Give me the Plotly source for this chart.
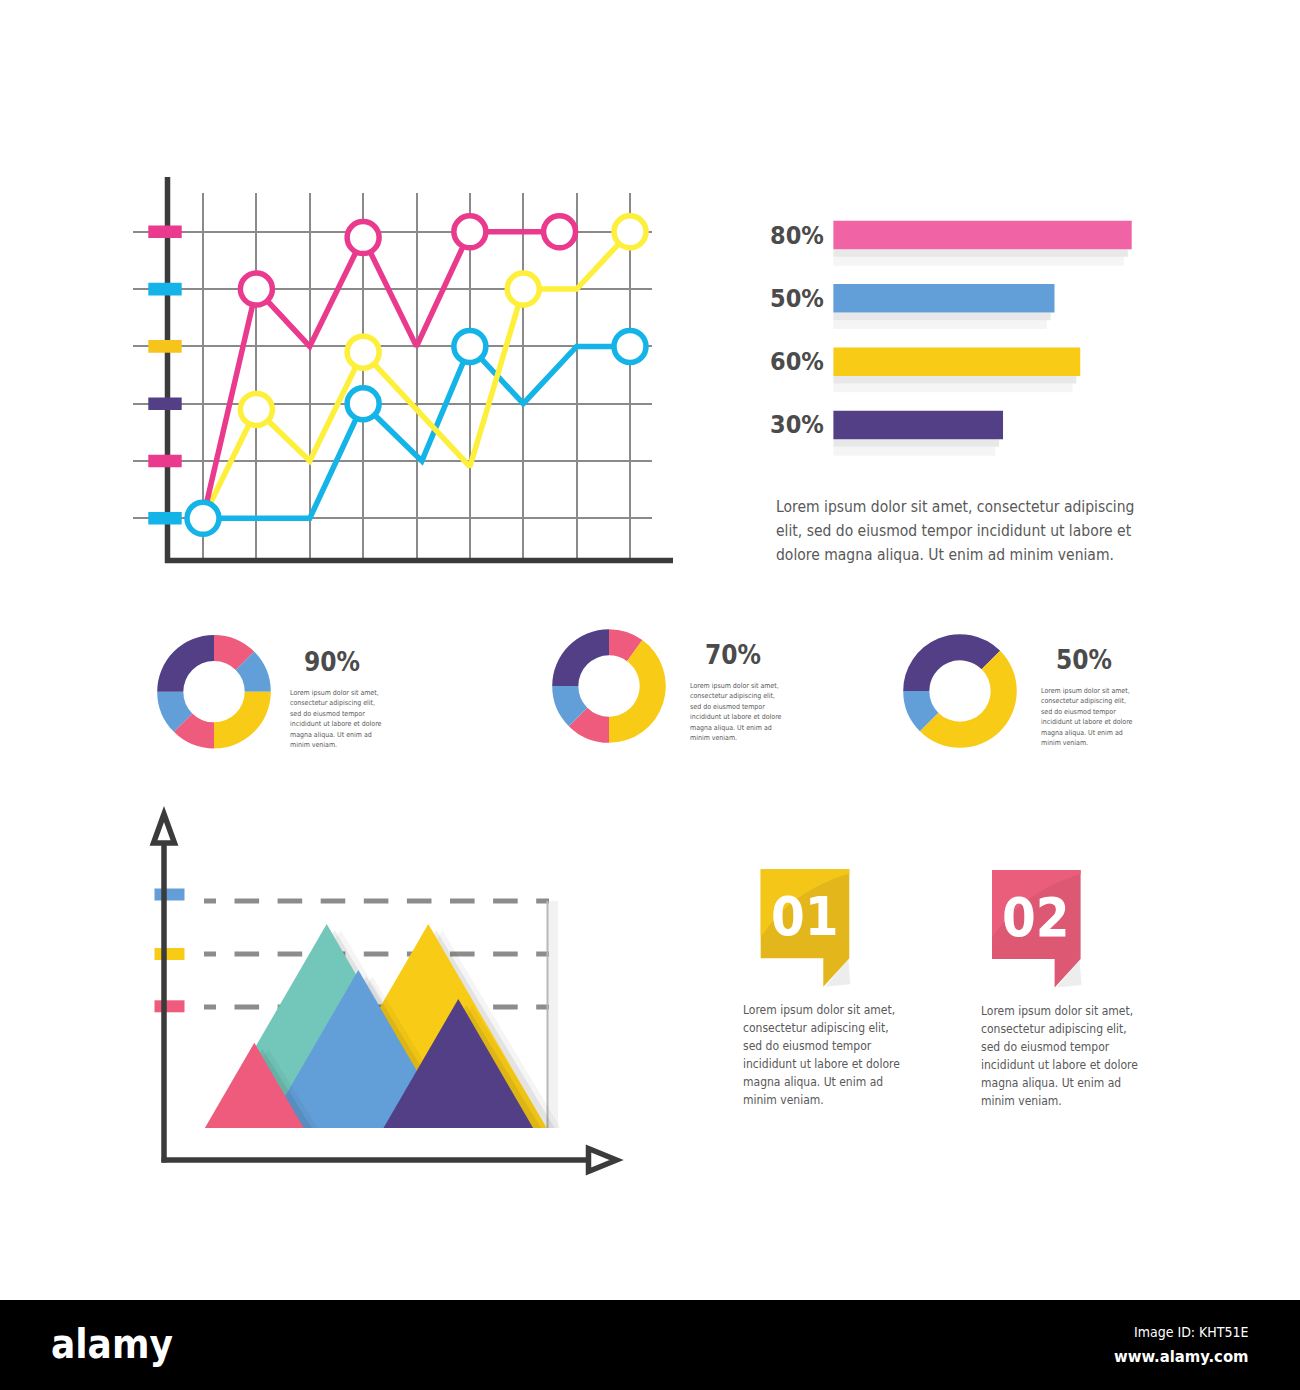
import plotly.graph_objects as go

W, H = 1300, 1390


def px(x):
    return x / W


def py(y):
    return 1 - y / H


NARROW = "DejaVu Sans Condensed, Liberation Sans Narrow, sans-serif"

# ---------------- colours ----------------
L_PINK = "#EA3A8D"
L_YELLOW = "#FDEF3A"
L_CYAN = "#14B3E8"
T_YELLOW = "#F6C41A"
PURPLE = "#533F86"
PINK = "#EF5B7D"
BLUE = "#629FD8"
YELLOW = "#F8CB17"
TEAL = "#72C7BA"
BAR_PINK = "#F063A4"
TXT = "#4B4B4B"
PARA = "#595959"

# ---------------- data: line chart ----------------
pink_x = [0, 1, 2, 3, 4, 5, 6.68]
pink_y = [0, 4, 3, 4.9, 3, 5, 5]
pink_marks = [1, 3, 5, 6]
yellow_x = [0, 1, 2, 3, 5, 6, 7, 8]
yellow_y = [0, 1.9, 1, 2.9, 0.9, 4, 4, 5]
yellow_marks = [1, 3, 5, 7]
cyan_x = [0, 2, 3, 4.1, 5, 6, 7, 8]
cyan_y = [0, 0, 2, 1, 3, 2, 3, 3]
cyan_marks = [0, 2, 4, 7]
grid_x = list(range(9))
grid_y = list(range(6))
level_tick_colors = [L_CYAN, L_PINK, PURPLE, T_YELLOW, L_CYAN, L_PINK]

# ---------------- data: bars ----------------
bar_labels = ["80%", "50%", "60%", "30%"]
bar_values = [80, 50, 60, 30]
bar_colors = [BAR_PINK, BLUE, YELLOW, PURPLE]
BAR_BASE = -35.9

# ---------------- data: donuts ----------------
donut_labels = ["90%", "70%", "50%"]
donut1_values = [12.5, 12.5, 25, 12.5, 12.5, 25]
donut1_colors = [PINK, BLUE, YELLOW, PINK, BLUE, PURPLE]
donut2_values = [25, 10, 40, 12.5, 12.5]
donut2_colors = [PURPLE, PINK, YELLOW, PINK, BLUE]
donut3_values = [37.5, 50, 12.5]
donut3_colors = [PURPLE, YELLOW, BLUE]

# ---------------- data: triangles ----------------
tri_centers = [163.7, 265.3, 195.3, 91.3, 295.3]
tri_peaks = [236, 236, 190, 117.3, 161]
tri_colors = [TEAL, YELLOW, BLUE, PINK, PURPLE]
TRI_BASE = 32
TRI_SLOPE = 0.58
tri_levels = [259, 206, 153]
tri_level_colors = [BLUE, YELLOW, PINK]

lorem_small = ["Lorem ipsum dolor sit amet,", "consectetur adipiscing elit,", "sed do eiusmod tempor",
               "incididunt ut labore et dolore", "magna aliqua. Ut enim ad", "minim veniam."]
lorem_bar = ["Lorem ipsum dolor sit amet, consectetur adipiscing",
             "elit, sed do eiusmod tempor incididunt ut labore et",
             "dolore magna aliqua. Ut enim ad minim veniam."]

fig = go.Figure()
shapes = []
annotations = []


def add_lines(x, y0, dy, lines, size, color=PARA):
    for i, ln in enumerate(lines):
        annotations.append(dict(xref="paper", yref="paper", x=px(x), y=py(y0 + i * dy), text=ln, showarrow=False,
                                xanchor="left", yanchor="middle", align="left",
                                font=dict(family=NARROW, size=size, color=color)))


# ================= line chart =================
LX0, LDX = 203.0, 53.375
LY0, LDY = 518.3, 57.3

for xs, ys, col in [(cyan_x, cyan_y, L_CYAN), (yellow_x, yellow_y, L_YELLOW), (pink_x, pink_y, L_PINK)]:
    fig.add_trace(go.Scatter(x=xs, y=ys, mode="lines", line=dict(color=col, width=5.5),
                             xaxis="x", yaxis="y", showlegend=False, hoverinfo="skip", cliponaxis=False))
for xs, ys, idx, col in [(pink_x, pink_y, pink_marks, L_PINK), (yellow_x, yellow_y, yellow_marks, L_YELLOW),
                         (cyan_x, cyan_y, cyan_marks, L_CYAN)]:
    fig.add_trace(go.Scatter(x=[xs[i] for i in idx], y=[ys[i] for i in idx], mode="markers",
                             marker=dict(size=32, color="white", line=dict(color=col, width=5.5)),
                             xaxis="x", yaxis="y", showlegend=False, hoverinfo="skip", cliponaxis=False))

shapes.append(dict(type="line", xref="paper", yref="paper", x0=px(167.5), x1=px(167.5), y0=py(177), y1=py(563),
                   line=dict(color="#3B3B3B", width=5.5)))
shapes.append(dict(type="line", xref="paper", yref="paper", x0=px(165), x1=px(673), y0=py(560.5), y1=py(560.5),
                   line=dict(color="#3B3B3B", width=5.5)))
for lvl, col in zip(grid_y, level_tick_colors):
    shapes.append(dict(type="rect", xref="paper", yref="y", x0=px(148.3), x1=px(181.7),
                       y0=lvl - 0.11, y1=lvl + 0.11, fillcolor=col, line=dict(width=0)))

# ================= bars =================
fig.add_trace(go.Bar(y=bar_labels, x=[v - BAR_BASE - 1.5 for v in bar_values], base=BAR_BASE, orientation="h",
                     offset=0.225, width=0.12, marker=dict(color="rgba(0,0,0,0.09)", line=dict(width=0)),
                     xaxis="x2", yaxis="y2", showlegend=False, hoverinfo="skip"))
fig.add_trace(go.Bar(y=bar_labels, x=[v - BAR_BASE - 3 for v in bar_values], base=BAR_BASE, orientation="h",
                     offset=0.345, width=0.14, marker=dict(color="rgba(0,0,0,0.04)", line=dict(width=0)),
                     xaxis="x2", yaxis="y2", showlegend=False, hoverinfo="skip"))
fig.add_trace(go.Bar(y=bar_labels, x=[v - BAR_BASE for v in bar_values], base=BAR_BASE, orientation="h",
                     offset=-0.225, width=0.45, marker=dict(color=bar_colors, line=dict(width=0)),
                     xaxis="x2", yaxis="y2", showlegend=False, hoverinfo="skip"))
for lab in bar_labels:
    annotations.append(dict(xref="paper", yref="y2", x=px(826), y=lab, text=f"<b>{lab}</b>", showarrow=False,
                            xanchor="right", yanchor="middle", font=dict(family=NARROW, size=25, color=TXT)))
add_lines(774, 507, 24, lorem_bar, 15.5)

# ================= donuts =================
donuts = [
    (donut1_values, donut1_colors, 0, 214, 691.7, 332, 662, 288, 693),
    (donut2_values, donut2_colors, -90, 609, 686, 733, 655, 688, 686),
    (donut3_values, donut3_colors, -90, 960, 691, 1084, 660, 1039, 691),
]
for (vals, cols, rot, cx, cy, lx, ly, tx, ty), lab in zip(donuts, donut_labels):
    r = 56.8
    fig.add_trace(go.Pie(values=vals, marker=dict(colors=cols, line=dict(width=0)), hole=0.54, sort=False,
                         direction="clockwise", rotation=rot, textinfo="none", hoverinfo="skip",
                         showlegend=False,
                         domain=dict(x=[px(cx - r), px(cx + r)], y=[py(cy + r), py(cy - r)])))
    annotations.append(dict(xref="paper", yref="paper", x=px(lx), y=py(ly), text=f"<b>{lab}</b>", showarrow=False,
                            xanchor="center", yanchor="middle", font=dict(family=NARROW, size=26, color=TXT)))
    add_lines(tx, ty, 10.4, lorem_small, 7)

# ================= triangle chart =================
dash_pattern = ",".join(["12px", "18.5px"] + ["24.6px", "18.5px"] * 8)
for lvl in tri_levels:
    fig.add_trace(go.Scatter(x=[41, 386], y=[lvl, lvl], mode="lines",
                             line=dict(color="#8C8C8C", width=5, dash=dash_pattern),
                             xaxis="x3", yaxis="y3", showlegend=False, hoverinfo="skip"))
shapes.append(dict(type="rect", xref="x3", yref="y3", x0=385, x1=395, y0=TRI_BASE, y1=tri_levels[0],
                   fillcolor="rgba(0,0,0,0.05)", line=dict(width=0), layer="below"))
fig.add_trace(go.Scatter(x=[384.5, 384.5], y=[TRI_BASE, tri_levels[0]], mode="lines",
                         line=dict(color="#B8B8B8", width=2), xaxis="x3", yaxis="y3",
                         showlegend=False, hoverinfo="skip"))
for c, p, col in zip(tri_centers, tri_peaks, tri_colors):
    hw = TRI_SLOPE * (p - TRI_BASE)
    for sh, op in [(14, 0.04), (8, 0.07)]:
        fig.add_trace(go.Scatter(x=[c - hw + sh, c + sh, c + hw + sh, c - hw + sh], y=[TRI_BASE, p - 6, TRI_BASE, TRI_BASE],
                                 mode="lines", fill="toself", fillcolor=f"rgba(0,0,0,{op})", line=dict(width=0),
                                 xaxis="x3", yaxis="y3", showlegend=False, hoverinfo="skip"))
    fig.add_trace(go.Scatter(x=[c - hw, c, c + hw, c - hw], y=[TRI_BASE, p, TRI_BASE, TRI_BASE],
                             mode="lines", fill="toself", fillcolor=col, line=dict(width=0),
                             xaxis="x3", yaxis="y3", showlegend=False, hoverinfo="skip"))
for lvl, col, off in zip(tri_levels, tri_level_colors, [6.5, 0, 0.7]):
    shapes.append(dict(type="rect", xref="paper", yref="y3", x0=px(154.5), x1=px(184.5),
                       y0=lvl + off - 6, y1=lvl + off + 6, fillcolor=col, line=dict(width=0)))
AX = "#3B3B3B"
shapes.append(dict(type="line", xref="paper", yref="paper", x0=px(164), x1=px(164), y0=py(843), y1=py(1162.5),
                   line=dict(color=AX, width=5.5)))
shapes.append(dict(type="line", xref="paper", yref="paper", x0=px(161.5), x1=px(589), y0=py(1160), y1=py(1160),
                   line=dict(color=AX, width=5.5)))


def path(points):
    return "M " + " L ".join(f"{px(x):.5f},{py(y):.5f}" for x, y in points) + " Z"


shapes.append(dict(type="path", xref="paper", yref="paper", path=path([(164, 814), (153.5, 843), (174.5, 843)]),
                   fillcolor="white", line=dict(color=AX, width=5.5)))
shapes.append(dict(type="path", xref="paper", yref="paper",
                   path=path([(616.5, 1160), (588.5, 1148.5), (588.5, 1171.5)]),
                   fillcolor="white", line=dict(color=AX, width=5.5)))

# ================= badges =================
badges = [("01", 760.7, 869.3, "#E3B71C", "#F4C618"), ("02", 992, 870, "#DC5873", "#EA5D7B")]
for txt, bx, by, dark, light in badges:
    w, h = 88.6, 89
    shapes.append(dict(type="path", xref="paper", yref="paper",
                       path=path([(bx + w - 1, by + h), (bx + w + 1, by + h + 26), (bx + w - 24, by + h + 28.4)]),
                       fillcolor="rgba(0,0,0,0.07)", line=dict(width=0)))
    shapes.append(dict(type="path", xref="paper", yref="paper",
                       path=path([(bx, by), (bx + w, by), (bx + w, by + h), (bx + w - 26, by + h + 28.4),
                                  (bx + w - 26, by + h), (bx, by + h)]),
                       fillcolor=dark, line=dict(width=0)))
    shapes.append(dict(type="path", xref="paper", yref="paper",
                       path=(f"M {px(bx):.5f},{py(by):.5f} L {px(bx + w):.5f},{py(by):.5f} "
                             f"L {px(bx + w):.5f},{py(by + 4):.5f} "
                             f"Q {px(bx + 30):.5f},{py(by + 22):.5f} {px(bx):.5f},{py(by + 68):.5f} Z"),
                       fillcolor=light, line=dict(width=0)))
    annotations.append(dict(xref="paper", yref="paper", x=px(bx + w / 2), y=py(by + 47), text=f"<b>{txt}</b>",
                            showarrow=False, xanchor="center", yanchor="middle",
                            font=dict(family=NARROW, size=54, color="white")))
add_lines(741, 1010, 18, lorem_small, 12)
add_lines(979, 1011, 18, lorem_small, 12)

# ================= banner =================
shapes.append(dict(type="rect", xref="paper", yref="paper", x0=0, x1=1, y0=0, y1=py(1300),
                   fillcolor="black", line=dict(width=0)))
annotations.append(dict(xref="paper", yref="paper", x=px(49), y=py(1344), text="<b>alamy</b>", showarrow=False,
                        xanchor="left", yanchor="middle", font=dict(family=NARROW, size=40, color="white")))
annotations.append(dict(xref="paper", yref="paper", x=px(1251), y=py(1332), text="Image ID: KHT51E", showarrow=False,
                        xanchor="right", yanchor="middle", font=dict(family=NARROW, size=14, color="white")))
annotations.append(dict(xref="paper", yref="paper", x=px(1251), y=py(1356), text="<b>www.alamy.com</b>",
                        showarrow=False, xanchor="right", yanchor="middle",
                        font=dict(family=NARROW, size=16.5, color="white")))

# ================= layout =================
hidden = dict(showgrid=False, zeroline=False, showticklabels=False, showline=False, ticks="", fixedrange=True)
fig.update_layout(
    width=W, height=H, margin=dict(l=0, r=0, t=0, b=0, pad=0),
    paper_bgcolor="white", plot_bgcolor="rgba(0,0,0,0)", barmode="overlay", showlegend=False,
    xaxis=dict(domain=[px(133), px(652)], range=[(133 - LX0) / LDX, (652 - LX0) / LDX], tickvals=grid_x,
               showgrid=True, gridcolor="#8A8A8A", gridwidth=2.2, zeroline=False, showticklabels=False,
               showline=False, ticks=""),
    yaxis=dict(domain=[py(560), py(193)], range=[(LY0 - 560) / LDY, (LY0 - 193) / LDY], tickvals=grid_y,
               showgrid=True, gridcolor="#8A8A8A", gridwidth=2.2, zeroline=False, showticklabels=False,
               showline=False, ticks=""),
    xaxis2=dict(domain=[px(832), px(1150)], range=[(832 - 925.8) / 2.574, (1150 - 925.8) / 2.574],
                anchor="y2", **hidden),
    yaxis2=dict(domain=[py(460), py(200)], type="category", categoryorder="array", categoryarray=bar_labels,
                range=[3.553, -0.553], anchor="x2", **hidden),
    xaxis3=dict(domain=[px(163), px(620)], range=[0, 457], anchor="y3", **hidden),
    yaxis3=dict(domain=[py(1160), py(810)], range=[0, 350], anchor="x3", **hidden),
    shapes=shapes, annotations=annotations,
)

fig.write_html("out.html", config={"displayModeBar": False},
               post_script="document.body.style.margin='0px';")
